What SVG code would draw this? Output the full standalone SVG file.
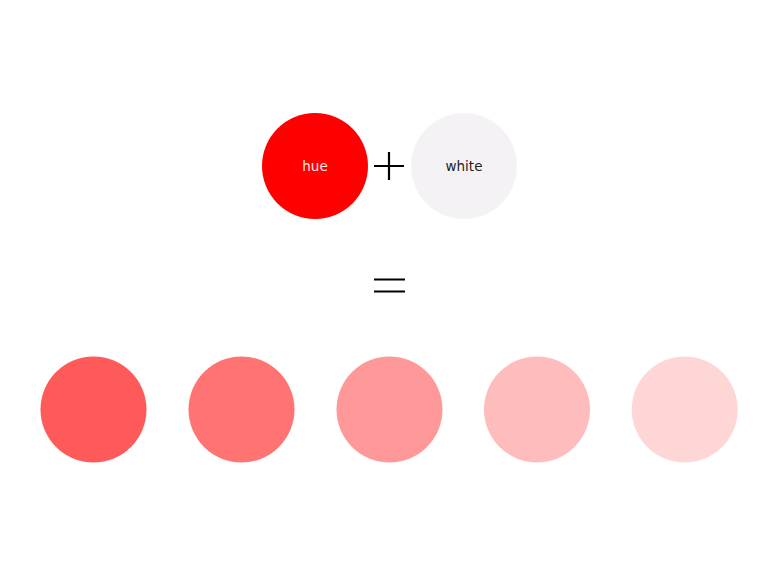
<svg xmlns="http://www.w3.org/2000/svg" width="768" height="576" viewBox="0 0 768 576">
<style>
.lbl{font-family:"DejaVu Sans",sans-serif;font-size:13.5px;text-anchor:middle}
.op{stroke:#000;stroke-width:2.2;fill:none}
</style>
<rect width="768" height="576" fill="#ffffff"/>
<g id="hue"><circle cx="315" cy="166" r="53" fill="#ff0000"/><text class="lbl" x="315" y="171" fill="#ffe6e6">hue</text></g>
<g id="plus"><path class="op" d="M374 166H404M389 152V180"/></g>
<g id="white"><circle cx="464" cy="166" r="53" fill="#f4f2f5"/><text class="lbl" x="464" y="171" fill="#222222">white</text></g>
<g id="equals"><path class="op" d="M374 279.5H405M374 291.5H405" stroke-width="3"/></g>
<g id="tint1"><circle cx="93.5" cy="409.5" r="53" fill="#ff5a5a"/></g>
<g id="tint2"><circle cx="241.5" cy="409.5" r="53" fill="#ff7373"/></g>
<g id="tint3"><circle cx="389.5" cy="409.5" r="53" fill="#ff9999"/></g>
<g id="tint4"><circle cx="537" cy="409.5" r="53" fill="#ffbcbc"/></g>
<g id="tint5"><circle cx="684.7" cy="409.5" r="53" fill="#ffd6d6"/></g>
<g id="connectors"/>
</svg>
